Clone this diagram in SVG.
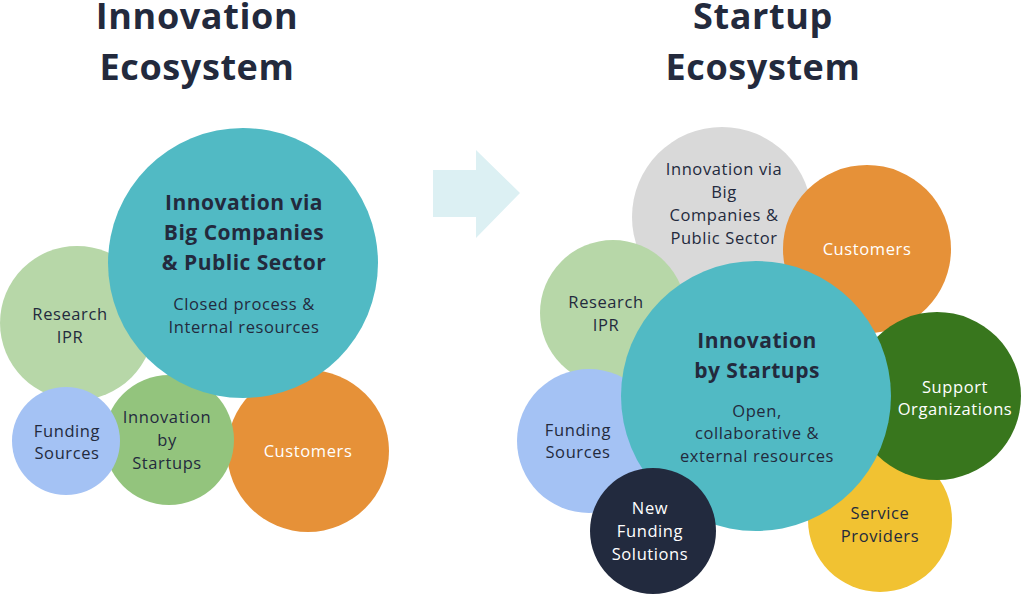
<svg xmlns="http://www.w3.org/2000/svg" width="1021" height="594" viewBox="0 0 1021 594">
<style>
text{font-family:"Open Sans","Liberation Sans",sans-serif;text-anchor:middle;fill:#232a3d}
.title{font-size:36px;font-weight:700;letter-spacing:0.6px}
.bold{font-size:21px;font-weight:700;letter-spacing:0.5px}
.lbl{font-size:16.5px;letter-spacing:0.6px}
.w{fill:#ffffff}
</style>
<rect width="1021" height="594" fill="#ffffff"/>
<g id="titles">
<text class="title" x="197" y="29">Innovation</text>
<text class="title" x="197" y="80">Ecosystem</text>
<text class="title" x="763" y="29">Startup</text>
<text class="title" x="763" y="80">Ecosystem</text>
</g>
<g id="connectors">
<polygon points="433,170 476,170 476,150 520,193 476,238 476,217 433,217" fill="#dcf0f3"/>
</g>
<g id="left">
<g id="l-research"><circle cx="77" cy="323" r="77" fill="#b7d7a8"/><text class="lbl" x="70" y="320">Research</text><text class="lbl" x="70" y="343">IPR</text></g>
<g id="l-customers"><circle cx="308" cy="451" r="81" fill="#e69138"/><text class="lbl w" x="308" y="457">Customers</text></g>
<g id="l-startups"><circle cx="169" cy="440" r="65" fill="#93c47d"/><text class="lbl" x="167" y="423">Innovation</text><text class="lbl" x="167" y="446">by</text><text class="lbl" x="167" y="469">Startups</text></g>
<g id="l-funding"><circle cx="66" cy="441" r="54" fill="#a4c2f4"/><text class="lbl" x="67" y="437">Funding</text><text class="lbl" x="67" y="459">Sources</text></g>
<g id="l-big"><circle cx="243" cy="263" r="135" fill="#51bac4"/><text class="bold" x="244" y="210">Innovation via</text><text class="bold" x="244" y="240">Big Companies</text><text class="bold" x="244" y="270">&amp; Public Sector</text><text class="lbl" x="244" y="310">Closed process &amp;</text><text class="lbl" x="244" y="333">Internal resources</text></g>
</g>
<g id="right">
<g id="r-big"><circle cx="722" cy="217" r="90" fill="#d9d9d9"/><text class="lbl" x="724" y="175">Innovation via</text><text class="lbl" x="724" y="198">Big</text><text class="lbl" x="724" y="221">Companies &amp;</text><text class="lbl" x="724" y="244">Public Sector</text></g>
<g id="r-customers"><circle cx="867" cy="249" r="84" fill="#e69138"/><text class="lbl w" x="867" y="255">Customers</text></g>
<g id="r-research"><circle cx="613" cy="313" r="73" fill="#b7d7a8"/><text class="lbl" x="606" y="308">Research</text><text class="lbl" x="606" y="331">IPR</text></g>
<g id="r-funding"><circle cx="589" cy="441" r="72" fill="#a4c2f4"/><text class="lbl" x="578" y="436">Funding</text><text class="lbl" x="578" y="458">Sources</text></g>
<g id="r-service"><circle cx="880" cy="520" r="72" fill="#f1c232"/><text class="lbl" x="880" y="519">Service</text><text class="lbl" x="880" y="542">Providers</text></g>
<g id="r-support"><circle cx="937" cy="396" r="84" fill="#38761d"/><text class="lbl w" x="955" y="393">Support</text><text class="lbl w" x="955" y="415">Organizations</text></g>
<g id="r-startups"><circle cx="756" cy="396" r="135" fill="#51bac4"/><text class="bold" x="757" y="348">Innovation</text><text class="bold" x="757" y="378">by Startups</text><text class="lbl" x="757" y="417">Open,</text><text class="lbl" x="757" y="439">collaborative &amp;</text><text class="lbl" x="757" y="462">external resources</text></g>
<g id="r-newfunding"><circle cx="653" cy="531" r="63" fill="#222a3e"/><text class="lbl w" x="650" y="514">New</text><text class="lbl w" x="650" y="537">Funding</text><text class="lbl w" x="650" y="560">Solutions</text></g>
</g>
</svg>
